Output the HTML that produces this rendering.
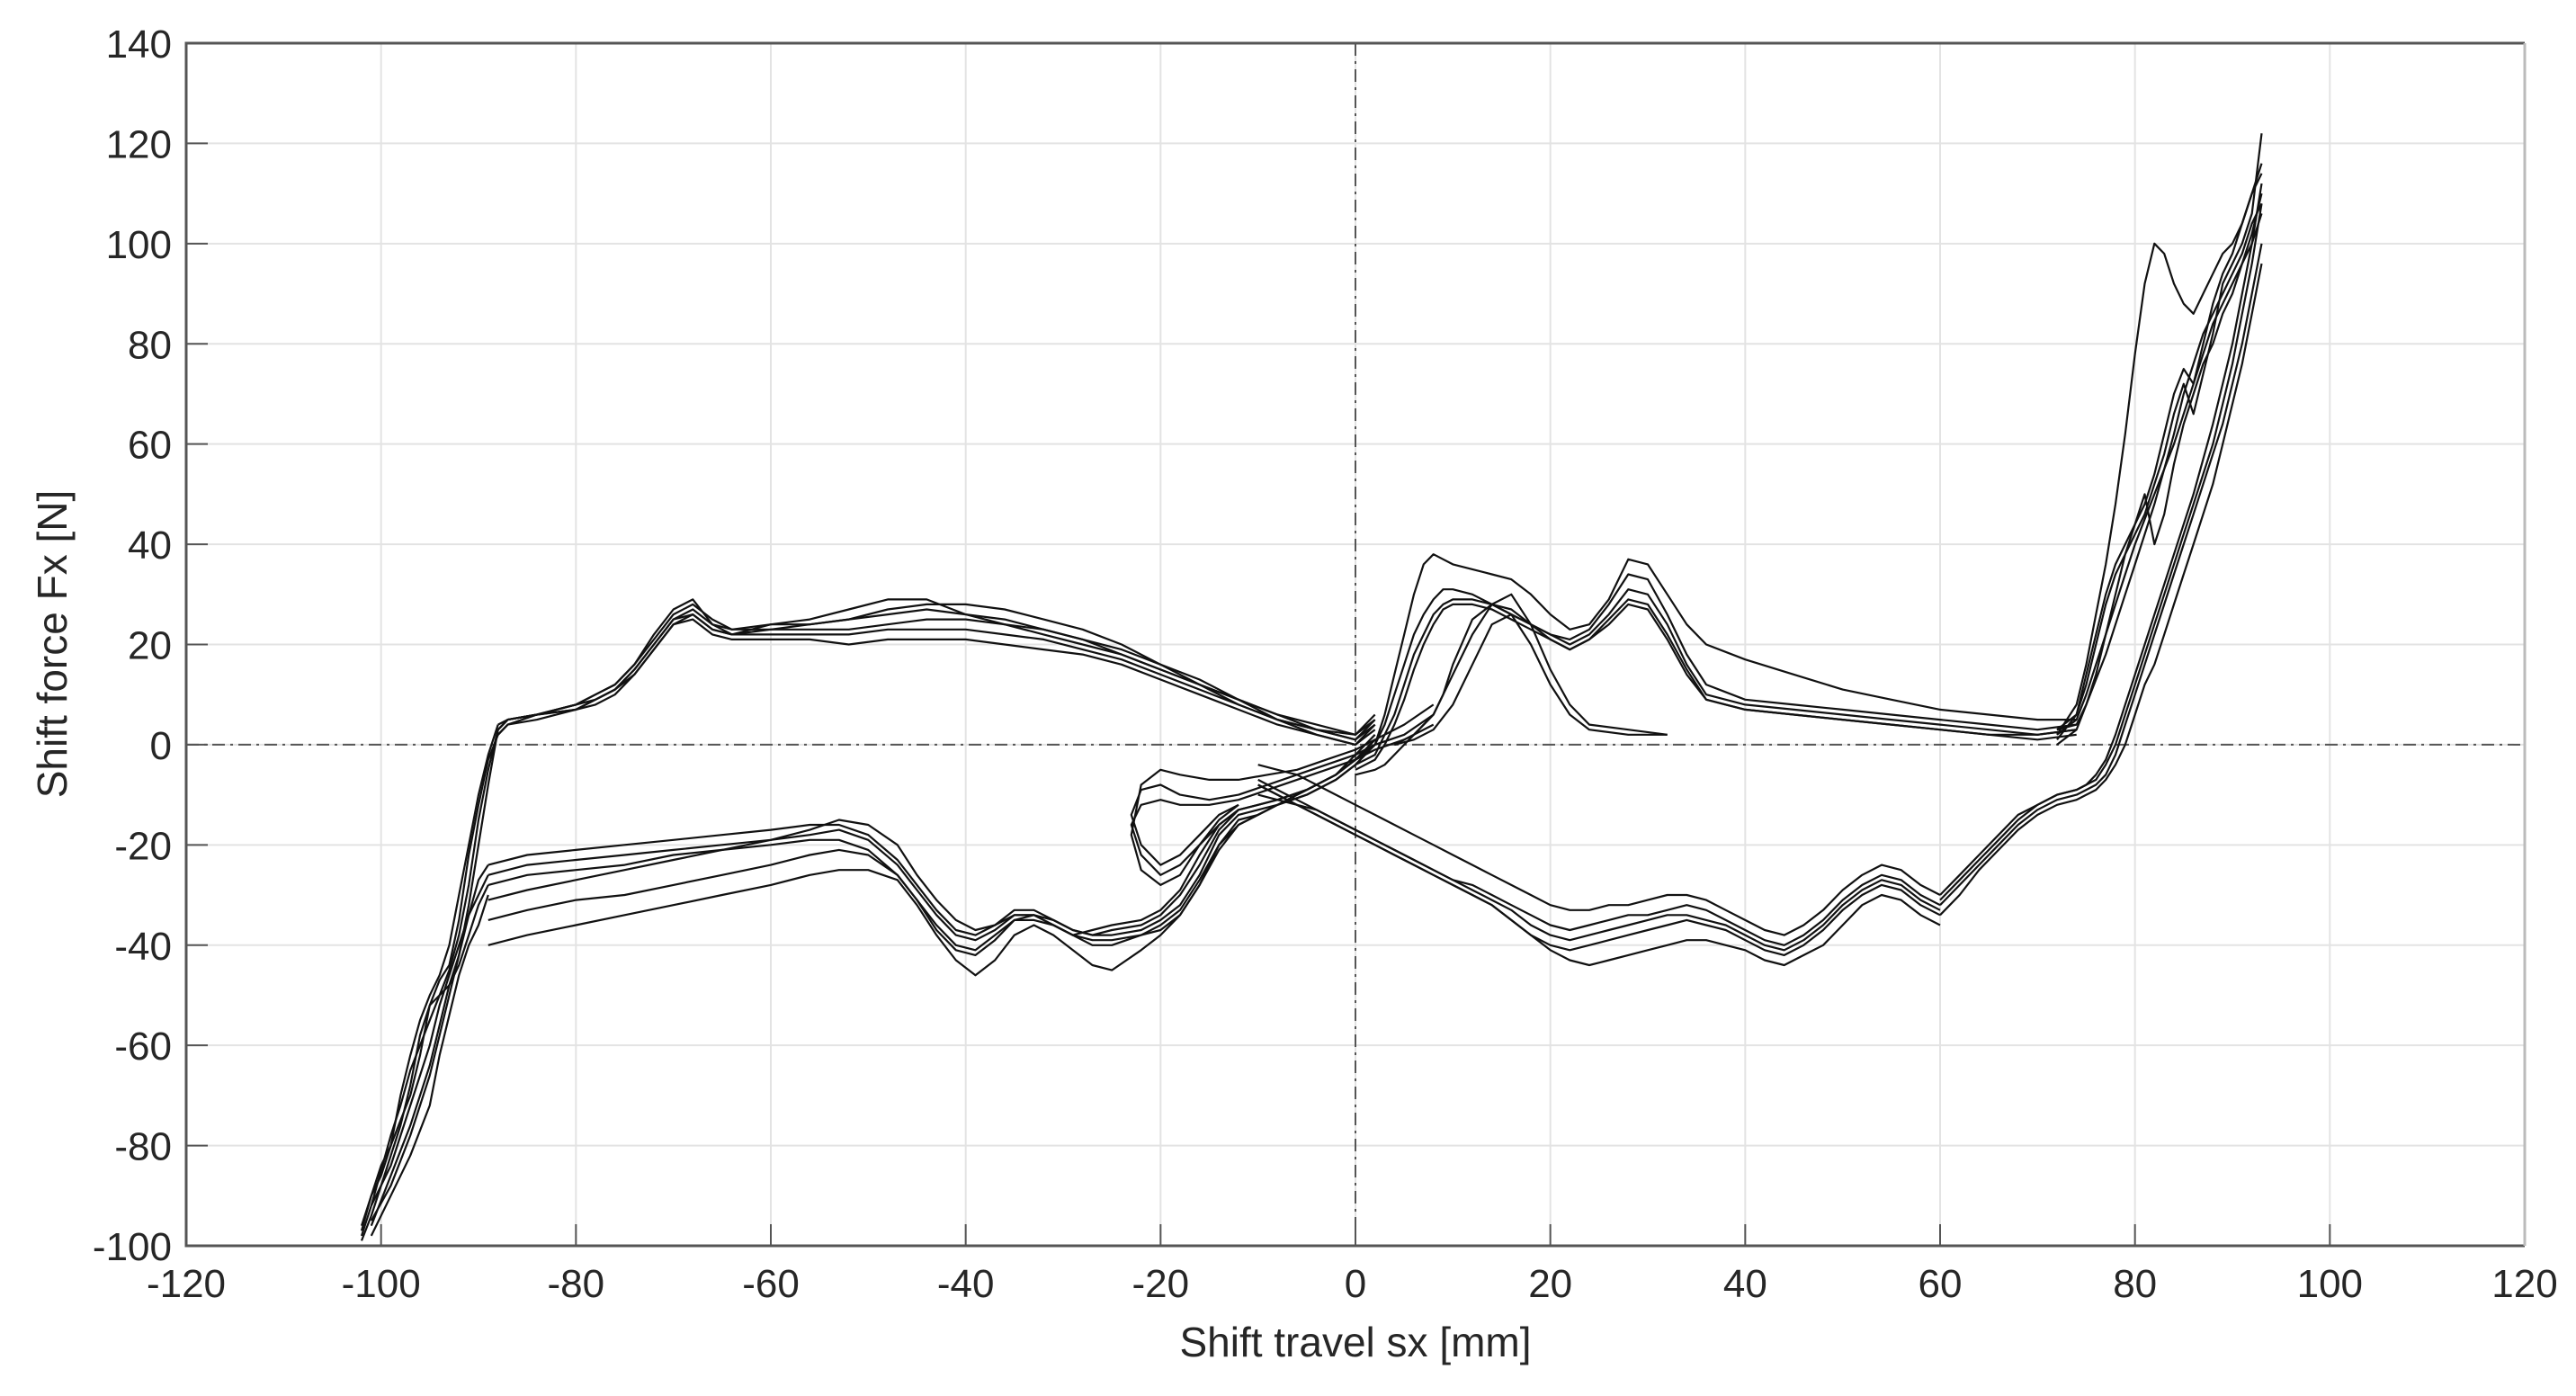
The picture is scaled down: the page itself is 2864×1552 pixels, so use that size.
<!DOCTYPE html>
<html><head><meta charset="utf-8"><style>
html,body{margin:0;padding:0;background:#fff}
svg text{font-family:"Liberation Sans",sans-serif;fill:#262626}
</style></head><body>
<svg id="chart" width="2864" height="1547" viewBox="0 0 2864 1547" xmlns="http://www.w3.org/2000/svg">
<rect width="2864" height="1547" fill="#fff"/>
<g id="grid"></g>
<g id="zero"></g>
<g id="series"></g>
<g id="axes"></g>
<text x="1507" y="1508" font-size="46" text-anchor="middle">Shift travel sx [mm]</text>
<text transform="translate(74,716) rotate(-90)" font-size="46" text-anchor="middle">Shift force Fx [N]</text>
</svg>
<script>
const xTicks=[-120,-100,-80,-60,-40,-20,0,20,40,60,80,100,120];
const yTicks=[-100,-80,-60,-40,-20,0,20,40,60,80,100,120,140];
const b1x=[2,0,-4,-8,-12,-16,-20,-24,-28,-32,-36,-40,-44,-48,-52,-56,-60,-64,-66,-68,-70,-72,-74,-76,-78,-80,-84,-87,-88];
const b1y1=[4,1,3,5,8,11,14,17,19,21,22,23,23,23,22,22,22,22,24,27,25,20,15,11,9,7,6,5,3];
const b1y2=[6,2,4,6,9,12,16,19,21,23,24,25,25,24,23,23,23,23,25,28,26,21,16,12,10,8,6,5,3];
const b1y3=[3,0,2,4,7,10,13,16,18,19,20,21,21,21,20,21,21,21,22,25,24,19,14,10,8,7,5,4,2];
const b1y4=[5,1,3,5,9,13,16,20,23,25,27,28,28,27,25,24,23,22,23,26,24,19,14,11,9,7,6,5,3];
const b1y5=[4,0,2,5,8,12,15,18,21,23,25,26,27,26,25,24,24,23,24,29,27,22,16,12,10,8,6,4,2];
const b1y6=[5,2,3,6,9,12,15,18,20,22,24,26,29,29,27,25,24,22,23,26,25,20,15,11,9,8,6,5,4];
const b2x=[-88,-89,-90,-91,-92,-93,-94,-95,-96,-97,-98,-99,-100,-101,-102];
const b2y1=[3,-5,-15,-28,-38,-45,-50,-55,-60,-65,-72,-78,-85,-92,-98];
const b2y2=[3,-8,-20,-32,-42,-48,-50,-52,-58,-68,-76,-82,-88,-94,-99];
const b2y3=[2,-3,-12,-22,-35,-44,-47,-52,-62,-70,-75,-80,-86,-90,-96];
const b2y4=[4,-2,-10,-20,-30,-40,-46,-50,-55,-62,-70,-80,-84,-90,-97];
const b3x=[-101,-99,-97,-95,-94,-93,-92,-91,-90,-89];
const b3y1=[-95,-88,-78,-66,-58,-50,-42,-34,-27,-24];
const b3y2=[-98,-90,-82,-72,-62,-54,-46,-40,-36,-30];
const b3y3=[-92,-84,-72,-60,-52,-46,-40,-34,-30,-26];
const b3y4=[-96,-86,-76,-64,-56,-48,-44,-38,-32,-28];
const b4x=[-89,-85,-80,-75,-70,-65,-60,-56,-53,-50,-47,-45,-43,-41,-39,-37,-35,-33,-31,-29,-27,-25,-22,-20,-18,-16,-14,-12,-10,-8,-5,-2,0,2];
const b4y1=[-24,-22,-21,-20,-19,-18,-17,-16,-16,-18,-23,-28,-33,-37,-38,-36,-34,-34,-35,-37,-38,-38,-37,-35,-32,-26,-18,-14,-13,-12,-10,-7,-4,0];
const b4y2=[-28,-26,-25,-24,-22,-21,-20,-19,-19,-21,-26,-31,-36,-40,-41,-38,-35,-35,-36,-38,-39,-39,-38,-37,-34,-28,-20,-15,-14,-12,-10,-7,-4,0];
const b4y3=[-35,-33,-31,-30,-28,-26,-24,-22,-21,-22,-26,-31,-37,-41,-42,-39,-35,-34,-36,-38,-40,-40,-38,-36,-33,-27,-20,-16,-14,-12,-9,-6,-3,1];
const b4y4=[-40,-38,-36,-34,-32,-30,-28,-26,-25,-25,-27,-32,-38,-43,-46,-43,-38,-36,-38,-41,-44,-45,-41,-38,-34,-28,-21,-16,-14,-12,-9,-6,-2,2];
const b4y5=[-31,-29,-27,-25,-23,-21,-19,-17,-15,-16,-20,-26,-31,-35,-37,-36,-33,-33,-35,-37,-38,-37,-36,-34,-30,-24,-17,-13,-12,-11,-9,-6,-3,1];
const b4y6=[-26,-24,-23,-22,-21,-20,-19,-18,-17,-19,-24,-29,-34,-38,-39,-37,-34,-34,-36,-38,-37,-36,-35,-33,-29,-22,-16,-13,-12,-11,-9,-6,-3,0];
const b5x=[0,2,3,4,5,6,7,8,9,10,12,14,16,18,20,22,24,26,28,30,32,34,36,40,45,50,55,60,65,70,74];
const b5y1=[-4,-2,2,6,12,18,22,26,28,29,29,28,26,24,22,20,22,26,31,30,24,16,10,8,7,6,5,4,3,2,3];
const b5y2=[-2,0,4,10,16,22,26,29,31,31,30,28,26,24,22,21,23,28,34,33,26,18,12,9,8,7,6,5,4,3,4];
const b5y3=[-6,-5,-4,-2,0,2,4,6,10,16,25,28,27,24,21,19,21,25,29,28,22,15,9,7,6,5,4,3,2,2,3];
const b5y4=[-3,0,6,14,22,30,36,38,37,36,35,34,33,30,26,23,24,29,37,36,30,24,20,17,14,11,9,7,6,5,5];
const b5y5=[-5,-3,0,4,9,15,20,24,27,28,28,27,25,23,21,19,21,24,28,27,21,14,9,7,6,5,4,3,2,1,2];
const b6x=[72,74,75,76,77,78,79,80,81,82,83,84,85,86,87,88,89,90,91,92,93];
const b6y1=[2,5,10,16,22,28,34,40,45,50,55,62,70,76,82,86,90,94,98,104,108];
const b6y2=[3,4,8,13,18,24,30,36,42,48,55,60,66,72,78,84,88,92,96,100,106];
const b6y3=[1,6,14,22,30,36,40,44,48,54,62,70,75,72,80,88,94,98,104,110,116];
const b6y4=[2,8,16,26,36,48,62,78,92,100,98,92,88,86,90,94,98,100,104,110,114];
const b6y5=[0,3,8,14,22,30,38,44,50,40,46,56,64,70,76,80,86,90,96,102,110];
const b6y6=[3,6,12,20,28,34,38,42,46,52,58,66,72,66,74,82,92,96,100,106,122];
const b7x=[93,92,91,90,89,88,87,86,85,84,83,82,81,80,79,78,77,76,75,74,72,70,68,66,64,62,60];
const b7y1=[100,90,80,72,64,58,52,46,40,34,28,22,16,10,4,-2,-6,-8,-9,-10,-11,-13,-16,-20,-24,-28,-32];
const b7y2=[108,96,86,76,68,60,54,48,42,36,30,24,18,12,6,0,-4,-7,-8,-9,-10,-12,-14,-18,-22,-26,-30];
const b7y3=[96,86,76,68,60,52,46,40,34,28,22,16,12,6,0,-4,-7,-9,-10,-11,-12,-14,-17,-21,-25,-30,-34];
const b7y4=[112,100,90,80,72,64,57,50,44,38,32,26,20,14,8,2,-3,-6,-8,-9,-10,-12,-15,-19,-23,-27,-31];
const b8x=[60,58,56,54,52,50,48,46,44,42,40,38,36,34,32,30,28,26,24,22,20,18,16,14,12,10,8,6,4,2,0,-2,-4,-6,-8,-10];
const b8y1=[-32,-30,-27,-26,-28,-31,-35,-38,-40,-39,-37,-35,-33,-32,-33,-34,-34,-35,-36,-37,-36,-34,-32,-30,-28,-27,-25,-23,-21,-19,-17,-15,-13,-11,-9,-7];
const b8y2=[-34,-32,-29,-28,-30,-33,-37,-40,-42,-41,-39,-37,-36,-35,-36,-37,-38,-39,-40,-41,-40,-38,-35,-32,-30,-28,-26,-24,-22,-20,-18,-16,-14,-12,-10,-8];
const b8y3=[-30,-28,-25,-24,-26,-29,-33,-36,-38,-37,-35,-33,-31,-30,-30,-31,-32,-32,-33,-33,-32,-30,-28,-26,-24,-22,-20,-18,-16,-14,-12,-10,-8,-6,-5,-4];
const b8y4=[-36,-34,-31,-30,-32,-36,-40,-42,-44,-43,-41,-40,-39,-39,-40,-41,-42,-43,-44,-43,-41,-38,-35,-32,-30,-28,-26,-24,-22,-20,-18,-16,-14,-12,-10,-8];
const b8y5=[-33,-31,-28,-27,-29,-32,-36,-39,-41,-40,-38,-36,-35,-34,-34,-35,-36,-37,-38,-39,-38,-36,-33,-31,-29,-27,-25,-23,-21,-19,-17,-15,-13,-12,-11,-10];
const b9x=[8,5,2,0,-3,-6,-9,-12,-15,-18,-20,-22,-23,-22,-20,-18,-16,-14,-12];
const b9y1=[8,4,1,-1,-3,-5,-6,-7,-7,-6,-5,-8,-18,-25,-28,-26,-20,-15,-12];
const b9y2=[6,2,0,-2,-4,-6,-8,-10,-11,-10,-8,-9,-14,-20,-24,-22,-18,-14,-12];
const b9y3=[4,1,-1,-3,-5,-7,-9,-11,-12,-12,-11,-12,-16,-22,-26,-24,-20,-16,-13];
const b10x=[4,6,8,10,12,14,16,18,20,22,24,28,32];
const b10y1=[0,2,6,14,22,28,30,24,15,8,4,3,2];
const b10y2=[0,1,3,8,16,24,26,20,12,6,3,2,2];

const L=207,R=2807,T=48,B=1385;
const sx=v=>L+(v+120)*(R-L)/240;
const sy=v=>B-(v+100)*(B-T)/240;
const NS='http://www.w3.org/2000/svg';
function mk(tag,parent){const e=document.createElementNS(NS,tag);parent.appendChild(e);return e;}
const grid=document.getElementById('grid'),axes=document.getElementById('axes'),zero=document.getElementById('zero'),ser=document.getElementById('series');
xTicks.forEach(t=>{
 const g=mk('line',grid);
 g.setAttribute('x1',sx(t));g.setAttribute('x2',sx(t));g.setAttribute('y1',T);g.setAttribute('y2',B);g.setAttribute('stroke','#e3e3e3');g.setAttribute('stroke-width','2');
 const tk=mk('line',axes);
 tk.setAttribute('x1',sx(t));tk.setAttribute('x2',sx(t));tk.setAttribute('y1',B);tk.setAttribute('y2',B-24);tk.setAttribute('stroke','#555');tk.setAttribute('stroke-width','2');
 const tx=mk('text',axes);
 tx.setAttribute('x',sx(t));tx.setAttribute('y',B+57);tx.setAttribute('font-size','44');tx.setAttribute('text-anchor','middle');tx.textContent=t;
});
yTicks.forEach(t=>{
 const g=mk('line',grid);
 g.setAttribute('x1',L);g.setAttribute('x2',R);g.setAttribute('y1',sy(t));g.setAttribute('y2',sy(t));g.setAttribute('stroke','#e3e3e3');g.setAttribute('stroke-width','2');
 const tk=mk('line',axes);
 tk.setAttribute('x1',L);tk.setAttribute('x2',L+24);tk.setAttribute('y1',sy(t));tk.setAttribute('y2',sy(t));tk.setAttribute('stroke','#555');tk.setAttribute('stroke-width','2');
 const tx=mk('text',axes);
 tx.setAttribute('x',L-16);tx.setAttribute('y',sy(t)+16);tx.setAttribute('font-size','44');tx.setAttribute('text-anchor','end');tx.textContent=t;
});
const zx=mk('line',zero);
zx.setAttribute('x1',sx(0));zx.setAttribute('x2',sx(0));zx.setAttribute('y1',T);zx.setAttribute('y2',B);zx.setAttribute('stroke','#555');zx.setAttribute('stroke-width','2');zx.setAttribute('stroke-dasharray','14 6 3 6');
const zy=mk('line',zero);
zy.setAttribute('x1',L);zy.setAttribute('x2',R);zy.setAttribute('y1',sy(0));zy.setAttribute('y2',sy(0));zy.setAttribute('stroke','#555');zy.setAttribute('stroke-width','2');zy.setAttribute('stroke-dasharray','14 6 3 6');
const branches=[[b1x,[b1y1,b1y2,b1y3,b1y4,b1y5,b1y6]],[b2x,[b2y1,b2y2,b2y3,b2y4]],[b3x,[b3y1,b3y2,b3y3,b3y4]],[b4x,[b4y1,b4y2,b4y3,b4y4,b4y5,b4y6]],[b5x,[b5y1,b5y2,b5y3,b5y4,b5y5]],[b6x,[b6y1,b6y2,b6y3,b6y4,b6y5,b6y6]],[b7x,[b7y1,b7y2,b7y3,b7y4]],[b8x,[b8y1,b8y2,b8y3,b8y4,b8y5]],[b9x,[b9y1,b9y2,b9y3]],[b10x,[b10y1,b10y2]]];
branches.forEach(([xs,ys])=>ys.forEach(yv=>{
 const p=mk('path',ser);
 
 
 p.setAttribute('d',xs.map((xv,i)=>(i?'L':'M')+sx(xv).toFixed(1)+','+sy(yv[i]).toFixed(1)).join(''));
 p.setAttribute('fill','none');p.setAttribute('stroke','#111');p.setAttribute('stroke-width','2.2');p.setAttribute('stroke-linejoin','round');
}));
const box=mk('path',axes);
box.setAttribute('d',`M${R},${T}L${L},${T}L${L},${B}L${R},${B}`);box.setAttribute('fill','none');box.setAttribute('stroke','#555');box.setAttribute('stroke-width','3');
const rb=mk('line',axes);
rb.setAttribute('x1',R);rb.setAttribute('x2',R);rb.setAttribute('y1',T);rb.setAttribute('y2',B);rb.setAttribute('stroke','#bbb');rb.setAttribute('stroke-width','3');
</script>
</body></html>
